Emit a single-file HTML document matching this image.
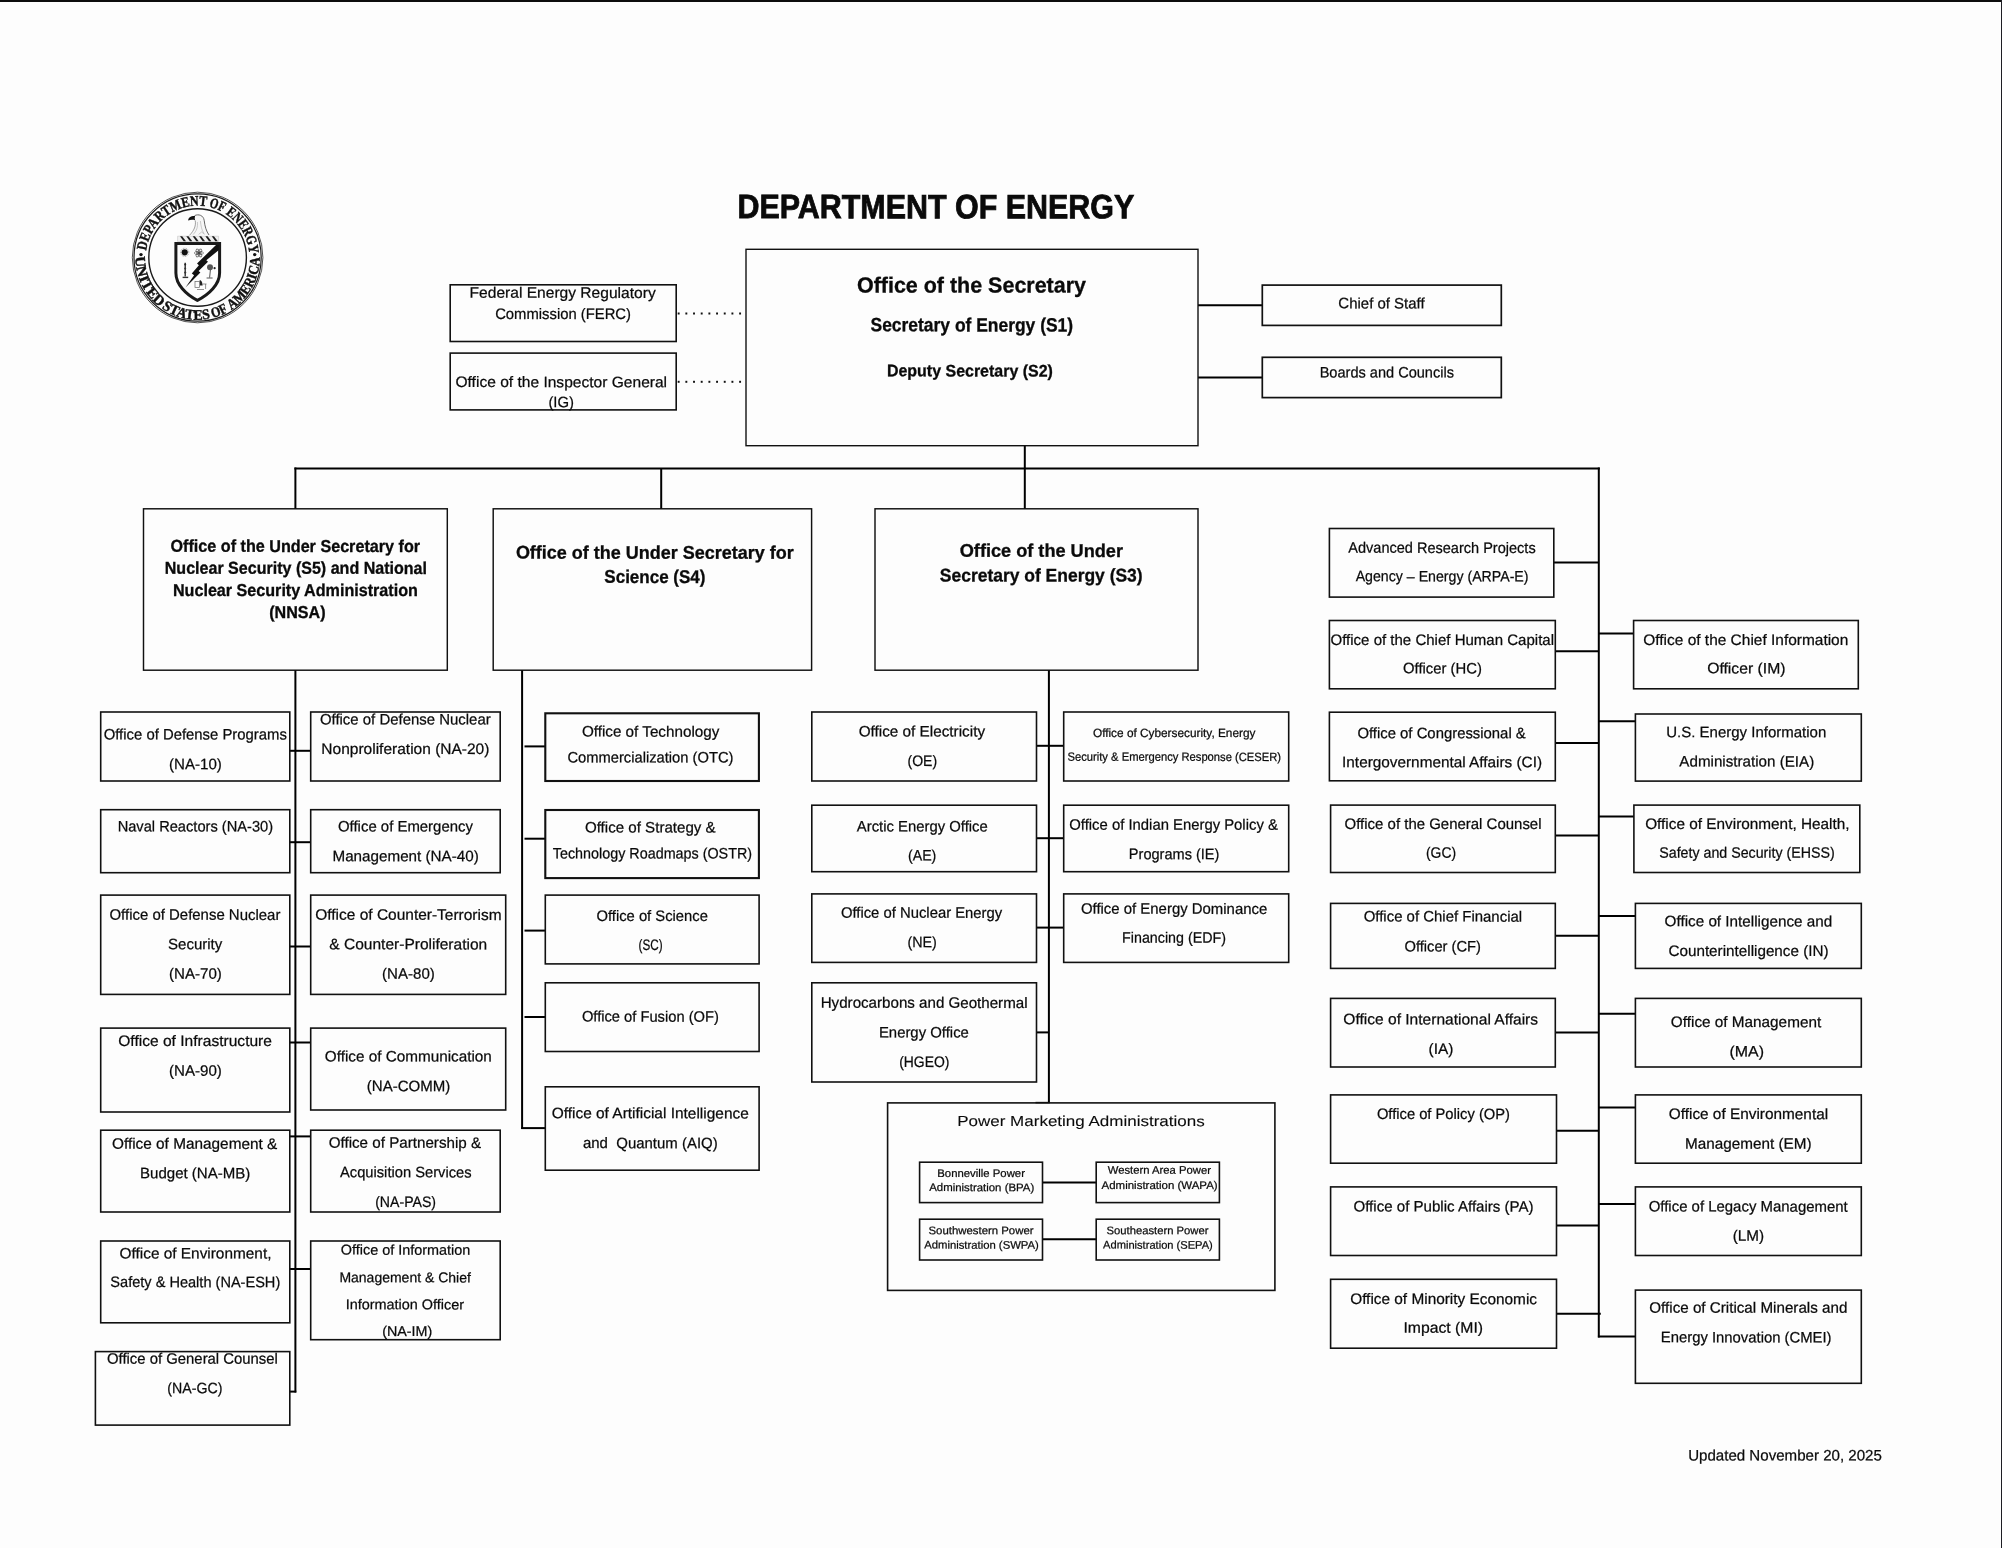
<!DOCTYPE html>
<html><head><meta charset="utf-8"><title>Department of Energy</title>
<style>
html,body{margin:0;padding:0;background:#fdfdfd;}
body{width:2002px;height:1548px;overflow:hidden;position:relative;font-family:"Liberation Sans",sans-serif;}
#top{position:absolute;left:0;top:0;width:2002px;height:2px;background:#0d0d0d;}
#right{position:absolute;right:0;top:0;width:1px;height:1548px;background:#1e1e24;}
svg{position:absolute;left:0;top:0;will-change:transform;}
svg text{font-family:"Liberation Sans",sans-serif;white-space:pre;text-rendering:geometricPrecision;}
svg text.sf{font-family:"Liberation Serif",serif;}
</style></head><body>
<svg width="2002" height="1548" viewBox="0 0 2002 1548">
<line x1="1024.80" y1="446.00" x2="1024.80" y2="509.00" stroke="#000" stroke-width="2.0"/>
<line x1="294.40" y1="468.40" x2="1599.80" y2="468.40" stroke="#000" stroke-width="2.0"/>
<line x1="295.40" y1="467.50" x2="295.40" y2="509.00" stroke="#000" stroke-width="2.0"/>
<line x1="661.20" y1="468.00" x2="661.20" y2="509.00" stroke="#000" stroke-width="2.0"/>
<line x1="1598.80" y1="467.50" x2="1598.80" y2="1337.40" stroke="#000" stroke-width="2.0"/>
<line x1="1198.00" y1="305.20" x2="1262.00" y2="305.20" stroke="#000" stroke-width="2.0"/>
<line x1="1198.00" y1="377.50" x2="1262.00" y2="377.50" stroke="#000" stroke-width="2.0"/>
<rect x="677.70" y="312.50" width="1.9" height="2" fill="#111"/>
<rect x="685.38" y="312.50" width="1.9" height="2" fill="#111"/>
<rect x="693.06" y="312.50" width="1.9" height="2" fill="#111"/>
<rect x="700.74" y="312.50" width="1.9" height="2" fill="#111"/>
<rect x="708.42" y="312.50" width="1.9" height="2" fill="#111"/>
<rect x="716.10" y="312.50" width="1.9" height="2" fill="#111"/>
<rect x="723.78" y="312.50" width="1.9" height="2" fill="#111"/>
<rect x="731.46" y="312.50" width="1.9" height="2" fill="#111"/>
<rect x="739.14" y="312.50" width="1.9" height="2" fill="#111"/>
<rect x="677.70" y="380.80" width="1.9" height="2" fill="#111"/>
<rect x="685.38" y="380.80" width="1.9" height="2" fill="#111"/>
<rect x="693.06" y="380.80" width="1.9" height="2" fill="#111"/>
<rect x="700.74" y="380.80" width="1.9" height="2" fill="#111"/>
<rect x="708.42" y="380.80" width="1.9" height="2" fill="#111"/>
<rect x="716.10" y="380.80" width="1.9" height="2" fill="#111"/>
<rect x="723.78" y="380.80" width="1.9" height="2" fill="#111"/>
<rect x="731.46" y="380.80" width="1.9" height="2" fill="#111"/>
<rect x="739.14" y="380.80" width="1.9" height="2" fill="#111"/>
<line x1="295.40" y1="670.00" x2="295.40" y2="1392.50" stroke="#000" stroke-width="2.0"/>
<line x1="289.80" y1="750.80" x2="310.70" y2="750.80" stroke="#000" stroke-width="2.0"/>
<line x1="289.80" y1="842.20" x2="310.70" y2="842.20" stroke="#000" stroke-width="2.0"/>
<line x1="289.80" y1="946.50" x2="310.70" y2="946.50" stroke="#000" stroke-width="2.0"/>
<line x1="289.80" y1="1042.50" x2="310.70" y2="1042.50" stroke="#000" stroke-width="2.0"/>
<line x1="289.80" y1="1136.40" x2="310.70" y2="1136.40" stroke="#000" stroke-width="2.0"/>
<line x1="289.80" y1="1269.00" x2="310.70" y2="1269.00" stroke="#000" stroke-width="2.0"/>
<line x1="289.80" y1="1391.60" x2="296.30" y2="1391.60" stroke="#000" stroke-width="2.0"/>
<line x1="522.10" y1="670.00" x2="522.10" y2="1129.00" stroke="#000" stroke-width="2.0"/>
<line x1="524.50" y1="746.40" x2="545.30" y2="746.40" stroke="#000" stroke-width="2.0"/>
<line x1="524.50" y1="838.70" x2="545.30" y2="838.70" stroke="#000" stroke-width="2.0"/>
<line x1="524.50" y1="930.60" x2="545.30" y2="930.60" stroke="#000" stroke-width="2.0"/>
<line x1="524.50" y1="1017.00" x2="545.30" y2="1017.00" stroke="#000" stroke-width="2.0"/>
<line x1="521.20" y1="1128.10" x2="545.30" y2="1128.10" stroke="#000" stroke-width="2.0"/>
<line x1="1048.90" y1="670.00" x2="1048.90" y2="1103.00" stroke="#000" stroke-width="2.0"/>
<line x1="1036.50" y1="745.80" x2="1063.70" y2="745.80" stroke="#000" stroke-width="2.0"/>
<line x1="1036.50" y1="838.20" x2="1063.70" y2="838.20" stroke="#000" stroke-width="2.0"/>
<line x1="1036.50" y1="927.60" x2="1063.70" y2="927.60" stroke="#000" stroke-width="2.0"/>
<line x1="1036.50" y1="1032.40" x2="1049.00" y2="1032.40" stroke="#000" stroke-width="2.0"/>
<line x1="1035.50" y1="1102.60" x2="1049.80" y2="1102.60" stroke="#000" stroke-width="1.5"/>
<line x1="1042.50" y1="1182.40" x2="1096.20" y2="1182.40" stroke="#000" stroke-width="2.0"/>
<line x1="1042.50" y1="1239.30" x2="1096.20" y2="1239.30" stroke="#000" stroke-width="2.0"/>
<line x1="1553.80" y1="562.60" x2="1598.80" y2="562.60" stroke="#000" stroke-width="2.0"/>
<line x1="1555.30" y1="651.30" x2="1598.80" y2="651.30" stroke="#000" stroke-width="2.0"/>
<line x1="1555.30" y1="743.00" x2="1598.80" y2="743.00" stroke="#000" stroke-width="2.0"/>
<line x1="1555.30" y1="835.40" x2="1598.80" y2="835.40" stroke="#000" stroke-width="2.0"/>
<line x1="1555.30" y1="935.70" x2="1598.80" y2="935.70" stroke="#000" stroke-width="2.0"/>
<line x1="1555.30" y1="1032.50" x2="1598.80" y2="1032.50" stroke="#000" stroke-width="2.0"/>
<line x1="1556.50" y1="1130.80" x2="1598.80" y2="1130.80" stroke="#000" stroke-width="2.0"/>
<line x1="1556.50" y1="1225.50" x2="1598.80" y2="1225.50" stroke="#000" stroke-width="2.0"/>
<line x1="1556.50" y1="1313.70" x2="1600.80" y2="1313.70" stroke="#000" stroke-width="2.0"/>
<line x1="1598.80" y1="633.40" x2="1633.60" y2="633.40" stroke="#000" stroke-width="2.0"/>
<line x1="1598.80" y1="721.20" x2="1635.40" y2="721.20" stroke="#000" stroke-width="2.0"/>
<line x1="1598.80" y1="816.50" x2="1633.90" y2="816.50" stroke="#000" stroke-width="2.0"/>
<line x1="1598.80" y1="916.00" x2="1635.40" y2="916.00" stroke="#000" stroke-width="2.0"/>
<line x1="1598.80" y1="1013.70" x2="1635.40" y2="1013.70" stroke="#000" stroke-width="2.0"/>
<line x1="1598.80" y1="1107.50" x2="1635.40" y2="1107.50" stroke="#000" stroke-width="2.0"/>
<line x1="1598.80" y1="1204.00" x2="1635.40" y2="1204.00" stroke="#000" stroke-width="2.0"/>
<line x1="1597.90" y1="1336.50" x2="1635.40" y2="1336.50" stroke="#000" stroke-width="2.0"/>
<rect x="746.00" y="249.30" width="452.00" height="196.40" fill="none" stroke="#111" stroke-width="1.4"/>
<rect x="450.20" y="284.80" width="226.00" height="56.70" fill="none" stroke="#111" stroke-width="1.6"/>
<rect x="450.20" y="353.10" width="226.00" height="56.80" fill="none" stroke="#111" stroke-width="1.6"/>
<rect x="1262.30" y="285.10" width="239.00" height="40.30" fill="none" stroke="#111" stroke-width="1.7"/>
<rect x="1262.30" y="357.30" width="239.00" height="40.30" fill="none" stroke="#111" stroke-width="1.7"/>
<rect x="143.50" y="508.80" width="303.80" height="161.40" fill="none" stroke="#111" stroke-width="1.45"/>
<rect x="493.20" y="508.80" width="318.40" height="161.40" fill="none" stroke="#111" stroke-width="1.45"/>
<rect x="875.00" y="508.80" width="323.00" height="161.40" fill="none" stroke="#111" stroke-width="1.45"/>
<rect x="100.70" y="712.00" width="189.10" height="69.00" fill="none" stroke="#111" stroke-width="1.6"/>
<rect x="310.70" y="712.00" width="189.50" height="69.00" fill="none" stroke="#111" stroke-width="1.6"/>
<rect x="100.70" y="809.70" width="189.10" height="63.00" fill="none" stroke="#111" stroke-width="1.6"/>
<rect x="310.70" y="809.70" width="189.50" height="63.00" fill="none" stroke="#111" stroke-width="1.6"/>
<rect x="100.70" y="895.10" width="189.10" height="99.30" fill="none" stroke="#111" stroke-width="1.6"/>
<rect x="310.70" y="895.10" width="195.00" height="99.30" fill="none" stroke="#111" stroke-width="1.6"/>
<rect x="100.70" y="1028.10" width="189.10" height="83.90" fill="none" stroke="#111" stroke-width="1.6"/>
<rect x="310.70" y="1028.10" width="195.00" height="81.90" fill="none" stroke="#111" stroke-width="1.6"/>
<rect x="100.70" y="1130.20" width="189.10" height="81.80" fill="none" stroke="#111" stroke-width="1.6"/>
<rect x="310.70" y="1130.20" width="189.50" height="81.80" fill="none" stroke="#111" stroke-width="1.6"/>
<rect x="100.70" y="1241.00" width="189.10" height="81.80" fill="none" stroke="#111" stroke-width="1.6"/>
<rect x="310.70" y="1241.00" width="189.50" height="98.70" fill="none" stroke="#111" stroke-width="1.6"/>
<rect x="95.40" y="1351.60" width="194.40" height="73.50" fill="none" stroke="#111" stroke-width="1.6"/>
<rect x="545.30" y="713.30" width="213.60" height="67.70" fill="none" stroke="#111" stroke-width="2.1"/>
<rect x="545.30" y="810.00" width="213.60" height="68.10" fill="none" stroke="#111" stroke-width="2.1"/>
<rect x="545.30" y="895.10" width="213.80" height="68.80" fill="none" stroke="#111" stroke-width="1.6"/>
<rect x="545.30" y="982.80" width="213.80" height="68.70" fill="none" stroke="#111" stroke-width="1.6"/>
<rect x="545.30" y="1086.80" width="213.80" height="83.40" fill="none" stroke="#111" stroke-width="1.6"/>
<rect x="811.80" y="712.00" width="224.70" height="69.00" fill="none" stroke="#111" stroke-width="1.6"/>
<rect x="1063.70" y="712.00" width="225.00" height="69.00" fill="none" stroke="#111" stroke-width="1.6"/>
<rect x="811.80" y="805.20" width="224.70" height="66.50" fill="none" stroke="#111" stroke-width="1.6"/>
<rect x="1063.70" y="805.20" width="225.00" height="66.50" fill="none" stroke="#111" stroke-width="1.6"/>
<rect x="811.80" y="893.90" width="224.70" height="68.50" fill="none" stroke="#111" stroke-width="1.6"/>
<rect x="1063.70" y="893.90" width="225.00" height="68.50" fill="none" stroke="#111" stroke-width="1.6"/>
<rect x="811.80" y="982.80" width="224.70" height="99.20" fill="none" stroke="#111" stroke-width="1.6"/>
<rect x="887.60" y="1102.90" width="387.30" height="187.50" fill="none" stroke="#111" stroke-width="1.6"/>
<rect x="919.60" y="1162.20" width="122.90" height="40.40" fill="none" stroke="#111" stroke-width="1.6"/>
<rect x="1096.20" y="1162.20" width="123.20" height="40.40" fill="none" stroke="#111" stroke-width="1.6"/>
<rect x="919.60" y="1219.20" width="122.90" height="40.80" fill="none" stroke="#111" stroke-width="1.6"/>
<rect x="1096.20" y="1219.20" width="123.20" height="40.80" fill="none" stroke="#111" stroke-width="1.6"/>
<rect x="1329.40" y="528.50" width="224.40" height="68.60" fill="none" stroke="#111" stroke-width="1.6"/>
<rect x="1329.40" y="620.50" width="225.90" height="68.30" fill="none" stroke="#111" stroke-width="1.6"/>
<rect x="1633.60" y="620.50" width="224.70" height="68.30" fill="none" stroke="#111" stroke-width="1.6"/>
<rect x="1329.40" y="712.20" width="225.90" height="68.60" fill="none" stroke="#111" stroke-width="1.6"/>
<rect x="1635.40" y="714.00" width="225.90" height="67.10" fill="none" stroke="#111" stroke-width="1.6"/>
<rect x="1330.60" y="805.10" width="224.70" height="67.40" fill="none" stroke="#111" stroke-width="1.6"/>
<rect x="1633.90" y="805.10" width="225.90" height="67.40" fill="none" stroke="#111" stroke-width="1.6"/>
<rect x="1330.60" y="903.40" width="224.70" height="65.00" fill="none" stroke="#111" stroke-width="1.6"/>
<rect x="1635.40" y="903.40" width="225.90" height="65.00" fill="none" stroke="#111" stroke-width="1.6"/>
<rect x="1330.60" y="998.40" width="224.70" height="68.60" fill="none" stroke="#111" stroke-width="1.6"/>
<rect x="1635.40" y="998.40" width="225.90" height="68.60" fill="none" stroke="#111" stroke-width="1.6"/>
<rect x="1330.60" y="1094.90" width="225.90" height="68.30" fill="none" stroke="#111" stroke-width="1.6"/>
<rect x="1635.40" y="1094.90" width="225.90" height="68.30" fill="none" stroke="#111" stroke-width="1.6"/>
<rect x="1330.60" y="1186.90" width="225.90" height="68.60" fill="none" stroke="#111" stroke-width="1.6"/>
<rect x="1635.40" y="1186.90" width="225.90" height="68.60" fill="none" stroke="#111" stroke-width="1.6"/>
<rect x="1330.60" y="1279.30" width="225.90" height="68.90" fill="none" stroke="#111" stroke-width="1.6"/>
<rect x="1635.40" y="1290.10" width="225.90" height="93.20" fill="none" stroke="#111" stroke-width="1.6"/>
<text transform="rotate(0.04 936.6 218.2) translate(737.42,218.20) scale(0.9034,1)" font-size="33.7" font-weight="bold" fill="#0a0a0a" stroke="#0a0a0a" stroke-width="0.8">DEPARTMENT OF ENERGY</text>
<text transform="rotate(0.04 971.9 292.5) translate(856.94,292.50) scale(0.9848,1)" font-size="21.8" font-weight="bold" fill="#0a0a0a" stroke="#0a0a0a" stroke-width="0.32">Office of the Secretary</text>
<text transform="rotate(0.04 971.7 331.4) translate(870.52,331.40) scale(0.9090,1)" font-size="19.2" font-weight="bold" fill="#0a0a0a" stroke="#0a0a0a" stroke-width="0.32">Secretary of Energy (S1)</text>
<text transform="rotate(0.04 970.1 376.4) translate(886.96,376.40) scale(0.9565,1)" font-size="16.7" font-weight="bold" fill="#0a0a0a" stroke="#0a0a0a" stroke-width="0.32">Deputy Secretary (S2)</text>
<text transform="rotate(0.04 563.3 297.9) translate(469.55,297.85) scale(1.0256,1)" font-size="15.2" font-weight="normal" fill="#0a0a0a" stroke="#0a0a0a" stroke-width="0.24">Federal Energy Regulatory</text>
<text transform="rotate(0.04 563.0 319.0) translate(495.16,318.95) scale(0.9755,1)" font-size="15.2" font-weight="normal" fill="#0a0a0a" stroke="#0a0a0a" stroke-width="0.24">Commission (FERC)</text>
<text transform="rotate(0.04 561.2 387.2) translate(455.46,387.15) scale(1.0245,1)" font-size="15.2" font-weight="normal" fill="#0a0a0a" stroke="#0a0a0a" stroke-width="0.24">Office of the Inspector General</text>
<text transform="rotate(0.04 561.2 407.4) translate(548.41,407.35) scale(0.9786,1)" font-size="15.2" font-weight="normal" fill="#0a0a0a" stroke="#0a0a0a" stroke-width="0.24">(IG)</text>
<text transform="rotate(0.04 1381.9 308.4) translate(1338.35,308.40) scale(0.9854,1)" font-size="15.2" font-weight="normal" fill="#0a0a0a" stroke="#0a0a0a" stroke-width="0.24">Chief of Staff</text>
<text transform="rotate(0.04 1387.2 377.5) translate(1319.63,377.50) scale(0.9588,1)" font-size="15.2" font-weight="normal" fill="#0a0a0a" stroke="#0a0a0a" stroke-width="0.24">Boards and Councils</text>
<text transform="rotate(0.04 295.6 551.9) translate(170.55,551.90) scale(0.9396,1)" font-size="17.2" font-weight="bold" fill="#0a0a0a" stroke="#0a0a0a" stroke-width="0.32">Office of the Under Secretary for</text>
<text transform="rotate(0.04 295.9 573.8) translate(164.76,573.80) scale(0.9337,1)" font-size="17.2" font-weight="bold" fill="#0a0a0a" stroke="#0a0a0a" stroke-width="0.32">Nuclear Security (S5) and National</text>
<text transform="rotate(0.04 295.5 596.0) translate(172.95,596.00) scale(0.9380,1)" font-size="17.2" font-weight="bold" fill="#0a0a0a" stroke="#0a0a0a" stroke-width="0.32">Nuclear Security Administration</text>
<text transform="rotate(0.04 297.4 617.9) translate(269.19,617.90) scale(0.9364,1)" font-size="17.2" font-weight="bold" fill="#0a0a0a" stroke="#0a0a0a" stroke-width="0.32">(NNSA)</text>
<text transform="rotate(0.04 655.2 558.7) translate(515.88,558.70) scale(0.9836,1)" font-size="18.3" font-weight="bold" fill="#0a0a0a" stroke="#0a0a0a" stroke-width="0.32">Office of the Under Secretary for</text>
<text transform="rotate(0.04 654.8 582.9) translate(604.33,582.90) scale(0.9305,1)" font-size="18.3" font-weight="bold" fill="#0a0a0a" stroke="#0a0a0a" stroke-width="0.32">Science (S4)</text>
<text transform="rotate(0.04 1041.7 556.9) translate(959.77,556.85) scale(0.9918,1)" font-size="18.3" font-weight="bold" fill="#0a0a0a" stroke="#0a0a0a" stroke-width="0.32">Office of the Under</text>
<text transform="rotate(0.04 1041.2 581.5) translate(939.82,581.55) scale(0.9551,1)" font-size="18.3" font-weight="bold" fill="#0a0a0a" stroke="#0a0a0a" stroke-width="0.32">Secretary of Energy (S3)</text>
<text transform="rotate(0.04 195.4 739.6) translate(103.69,739.55) scale(0.9790,1)" font-size="15.2" font-weight="normal" fill="#0a0a0a" stroke="#0a0a0a" stroke-width="0.24">Office of Defense Programs</text>
<text transform="rotate(0.04 195.5 769.4) translate(169.09,769.35) scale(0.9927,1)" font-size="15.2" font-weight="normal" fill="#0a0a0a" stroke="#0a0a0a" stroke-width="0.24">(NA-10)</text>
<text transform="rotate(0.04 405.6 724.5) translate(319.89,724.45) scale(0.9837,1)" font-size="15.2" font-weight="normal" fill="#0a0a0a" stroke="#0a0a0a" stroke-width="0.24">Office of Defense Nuclear</text>
<text transform="rotate(0.04 405.6 754.0) translate(321.36,753.95) scale(1.0209,1)" font-size="15.2" font-weight="normal" fill="#0a0a0a" stroke="#0a0a0a" stroke-width="0.24">Nonproliferation (NA-20)</text>
<text transform="rotate(0.04 195.6 831.5) translate(117.63,831.45) scale(0.9641,1)" font-size="15.2" font-weight="normal" fill="#0a0a0a" stroke="#0a0a0a" stroke-width="0.24">Naval Reactors (NA-30)</text>
<text transform="rotate(0.04 405.9 831.5) translate(337.99,831.45) scale(0.9825,1)" font-size="15.2" font-weight="normal" fill="#0a0a0a" stroke="#0a0a0a" stroke-width="0.24">Office of Emergency</text>
<text transform="rotate(0.04 405.9 861.2) translate(332.48,861.25) scale(1.0019,1)" font-size="15.2" font-weight="normal" fill="#0a0a0a" stroke="#0a0a0a" stroke-width="0.24">Management (NA-40)</text>
<text transform="rotate(0.04 195.2 919.9) translate(109.49,919.85) scale(0.9842,1)" font-size="15.2" font-weight="normal" fill="#0a0a0a" stroke="#0a0a0a" stroke-width="0.24">Office of Defense Nuclear</text>
<text transform="rotate(0.04 195.5 949.4) translate(168.02,949.35) scale(0.9891,1)" font-size="15.2" font-weight="normal" fill="#0a0a0a" stroke="#0a0a0a" stroke-width="0.24">Security</text>
<text transform="rotate(0.04 195.5 978.9) translate(169.09,978.85) scale(0.9927,1)" font-size="15.2" font-weight="normal" fill="#0a0a0a" stroke="#0a0a0a" stroke-width="0.24">(NA-70)</text>
<text transform="rotate(0.04 408.4 919.9) translate(315.26,919.85) scale(1.0188,1)" font-size="15.2" font-weight="normal" fill="#0a0a0a" stroke="#0a0a0a" stroke-width="0.24">Office of Counter-Terrorism</text>
<text transform="rotate(0.04 408.1 949.4) translate(329.36,949.35) scale(1.0215,1)" font-size="15.2" font-weight="normal" fill="#0a0a0a" stroke="#0a0a0a" stroke-width="0.24">&amp; Counter-Proliferation</text>
<text transform="rotate(0.04 408.4 978.9) translate(382.10,978.85) scale(0.9907,1)" font-size="15.2" font-weight="normal" fill="#0a0a0a" stroke="#0a0a0a" stroke-width="0.24">(NA-80)</text>
<text transform="rotate(0.04 195.2 1046.0) translate(118.26,1046.05) scale(1.0249,1)" font-size="15.2" font-weight="normal" fill="#0a0a0a" stroke="#0a0a0a" stroke-width="0.24">Office of Infrastructure</text>
<text transform="rotate(0.04 195.5 1075.8) translate(169.09,1075.85) scale(0.9927,1)" font-size="15.2" font-weight="normal" fill="#0a0a0a" stroke="#0a0a0a" stroke-width="0.24">(NA-90)</text>
<text transform="rotate(0.04 408.3 1061.4) translate(324.87,1061.45) scale(1.0057,1)" font-size="15.2" font-weight="normal" fill="#0a0a0a" stroke="#0a0a0a" stroke-width="0.24">Office of Communication</text>
<text transform="rotate(0.04 408.6 1091.1) translate(366.80,1091.15) scale(0.9902,1)" font-size="15.2" font-weight="normal" fill="#0a0a0a" stroke="#0a0a0a" stroke-width="0.24">(NA-COMM)</text>
<text transform="rotate(0.04 194.9 1148.8) translate(111.97,1148.85) scale(1.0112,1)" font-size="15.2" font-weight="normal" fill="#0a0a0a" stroke="#0a0a0a" stroke-width="0.24">Office of Management &amp;</text>
<text transform="rotate(0.04 195.3 1178.3) translate(140.00,1178.35) scale(0.9903,1)" font-size="15.2" font-weight="normal" fill="#0a0a0a" stroke="#0a0a0a" stroke-width="0.24">Budget (NA-MB)</text>
<text transform="rotate(0.04 405.2 1147.8) translate(328.68,1147.85) scale(0.9994,1)" font-size="15.2" font-weight="normal" fill="#0a0a0a" stroke="#0a0a0a" stroke-width="0.24">Office of Partnership &amp;</text>
<text transform="rotate(0.04 405.6 1177.3) translate(339.96,1177.35) scale(0.9688,1)" font-size="15.2" font-weight="normal" fill="#0a0a0a" stroke="#0a0a0a" stroke-width="0.24">Acquisition Services</text>
<text transform="rotate(0.04 405.6 1207.0) translate(375.15,1207.05) scale(0.9284,1)" font-size="15.2" font-weight="normal" fill="#0a0a0a" stroke="#0a0a0a" stroke-width="0.24">(NA-PAS)</text>
<text transform="rotate(0.04 195.2 1258.4) translate(119.57,1258.45) scale(1.0125,1)" font-size="15.2" font-weight="normal" fill="#0a0a0a" stroke="#0a0a0a" stroke-width="0.24">Office of Environment,</text>
<text transform="rotate(0.04 195.2 1287.1) translate(110.34,1287.15) scale(0.9585,1)" font-size="15.2" font-weight="normal" fill="#0a0a0a" stroke="#0a0a0a" stroke-width="0.24">Safety &amp; Health (NA-ESH)</text>
<text transform="rotate(0.04 405.4 1254.6) translate(340.82,1254.65) scale(1.0149,1)" font-size="14.2" font-weight="normal" fill="#0a0a0a" stroke="#0a0a0a" stroke-width="0.24">Office of Information</text>
<text transform="rotate(0.04 405.8 1282.3) translate(339.38,1282.35) scale(0.9863,1)" font-size="14.2" font-weight="normal" fill="#0a0a0a" stroke="#0a0a0a" stroke-width="0.24">Management &amp; Chief</text>
<text transform="rotate(0.04 405.5 1309.3) translate(345.66,1309.35) scale(1.0172,1)" font-size="14.2" font-weight="normal" fill="#0a0a0a" stroke="#0a0a0a" stroke-width="0.24">Information Officer</text>
<text transform="rotate(0.04 407.2 1336.0) translate(382.14,1336.05) scale(1.0092,1)" font-size="14.2" font-weight="normal" fill="#0a0a0a" stroke="#0a0a0a" stroke-width="0.24">(NA-IM)</text>
<text transform="rotate(0.04 192.3 1363.8) translate(106.99,1363.75) scale(0.9794,1)" font-size="15.2" font-weight="normal" fill="#0a0a0a" stroke="#0a0a0a" stroke-width="0.24">Office of General Counsel</text>
<text transform="rotate(0.04 194.9 1393.2) translate(167.35,1393.25) scale(0.9325,1)" font-size="15.2" font-weight="normal" fill="#0a0a0a" stroke="#0a0a0a" stroke-width="0.24">(NA-GC)</text>
<text transform="rotate(0.04 651.0 736.6) translate(581.88,736.65) scale(1.0028,1)" font-size="15.2" font-weight="normal" fill="#0a0a0a" stroke="#0a0a0a" stroke-width="0.24">Office of Technology</text>
<text transform="rotate(0.04 650.5 762.6) translate(567.46,762.55) scale(0.9689,1)" font-size="15.2" font-weight="normal" fill="#0a0a0a" stroke="#0a0a0a" stroke-width="0.24">Commercialization (OTC)</text>
<text transform="rotate(0.04 650.6 832.6) translate(584.88,832.55) scale(0.9956,1)" font-size="15.2" font-weight="normal" fill="#0a0a0a" stroke="#0a0a0a" stroke-width="0.24">Office of Strategy &amp;</text>
<text transform="rotate(0.04 652.2 858.6) translate(552.78,858.55) scale(0.9445,1)" font-size="15.2" font-weight="normal" fill="#0a0a0a" stroke="#0a0a0a" stroke-width="0.24">Technology Roadmaps (OSTR)</text>
<text transform="rotate(0.04 652.2 921.0) translate(596.50,920.95) scale(0.9723,1)" font-size="15.2" font-weight="normal" fill="#0a0a0a" stroke="#0a0a0a" stroke-width="0.24">Office of Science</text>
<text transform="rotate(0.04 650.6 950.1) translate(638.60,950.05) scale(0.7684,1)" font-size="15.2" font-weight="normal" fill="#0a0a0a" stroke="#0a0a0a" stroke-width="0.24">(SC)</text>
<text transform="rotate(0.04 650.4 1021.6) translate(581.90,1021.65) scale(0.9679,1)" font-size="15.2" font-weight="normal" fill="#0a0a0a" stroke="#0a0a0a" stroke-width="0.24">Office of Fusion (OF)</text>
<text transform="rotate(0.04 650.3 1118.3) translate(551.67,1118.35) scale(1.0168,1)" font-size="15.2" font-weight="normal" fill="#0a0a0a" stroke="#0a0a0a" stroke-width="0.24">Office of Artificial Intelligence</text>
<text transform="rotate(0.04 650.2 1148.1) translate(582.96,1148.15) scale(0.9854,1)" font-size="15.2" font-weight="normal" fill="#0a0a0a" stroke="#0a0a0a" stroke-width="0.24">and  Quantum (AIQ)</text>
<text transform="rotate(0.04 922.2 736.6) translate(858.67,736.55) scale(1.0070,1)" font-size="15.2" font-weight="normal" fill="#0a0a0a" stroke="#0a0a0a" stroke-width="0.24">Office of Electricity</text>
<text transform="rotate(0.04 922.3 766.1) translate(907.46,766.05) scale(0.9257,1)" font-size="15.2" font-weight="normal" fill="#0a0a0a" stroke="#0a0a0a" stroke-width="0.24">(OE)</text>
<text transform="rotate(0.04 1174.5 737.0) translate(1092.94,736.95) scale(0.9850,1)" font-size="12.0" font-weight="normal" fill="#0a0a0a" stroke="#0a0a0a" stroke-width="0.24">Office of Cybersecurity, Energy</text>
<text transform="rotate(0.04 1174.2 760.9) translate(1067.50,760.85) scale(0.9337,1)" font-size="12.0" font-weight="normal" fill="#0a0a0a" stroke="#0a0a0a" stroke-width="0.24">Security &amp; Emergency Response (CESER)</text>
<text transform="rotate(0.04 922.0 831.5) translate(856.86,831.45) scale(0.9772,1)" font-size="15.2" font-weight="normal" fill="#0a0a0a" stroke="#0a0a0a" stroke-width="0.24">Arctic Energy Office</text>
<text transform="rotate(0.04 922.1 860.5) translate(907.95,860.45) scale(0.9344,1)" font-size="15.2" font-weight="normal" fill="#0a0a0a" stroke="#0a0a0a" stroke-width="0.24">(AE)</text>
<text transform="rotate(0.04 1173.9 829.8) translate(1069.29,829.75) scale(0.9777,1)" font-size="15.2" font-weight="normal" fill="#0a0a0a" stroke="#0a0a0a" stroke-width="0.24">Office of Indian Energy Policy &amp;</text>
<text transform="rotate(0.04 1174.3 859.1) translate(1128.83,859.15) scale(0.9583,1)" font-size="15.2" font-weight="normal" fill="#0a0a0a" stroke="#0a0a0a" stroke-width="0.24">Programs (IE)</text>
<text transform="rotate(0.04 922.0 917.9) translate(840.89,917.85) scale(0.9767,1)" font-size="15.2" font-weight="normal" fill="#0a0a0a" stroke="#0a0a0a" stroke-width="0.24">Office of Nuclear Energy</text>
<text transform="rotate(0.04 922.1 947.4) translate(907.44,947.35) scale(0.9418,1)" font-size="15.2" font-weight="normal" fill="#0a0a0a" stroke="#0a0a0a" stroke-width="0.24">(NE)</text>
<text transform="rotate(0.04 1174.2 913.9) translate(1080.89,913.85) scale(0.9828,1)" font-size="15.2" font-weight="normal" fill="#0a0a0a" stroke="#0a0a0a" stroke-width="0.24">Office of Energy Dominance</text>
<text transform="rotate(0.04 1174.2 942.9) translate(1122.06,942.85) scale(0.9398,1)" font-size="15.2" font-weight="normal" fill="#0a0a0a" stroke="#0a0a0a" stroke-width="0.24">Financing (EDF)</text>
<text transform="rotate(0.04 924.3 1007.9) translate(820.69,1007.85) scale(0.9960,1)" font-size="15.2" font-weight="normal" fill="#0a0a0a" stroke="#0a0a0a" stroke-width="0.24">Hydrocarbons and Geothermal</text>
<text transform="rotate(0.04 924.2 1037.5) translate(878.91,1037.55) scale(0.9806,1)" font-size="15.2" font-weight="normal" fill="#0a0a0a" stroke="#0a0a0a" stroke-width="0.24">Energy Office</text>
<text transform="rotate(0.04 924.3 1067.0) translate(899.16,1067.05) scale(0.9162,1)" font-size="15.2" font-weight="normal" fill="#0a0a0a" stroke="#0a0a0a" stroke-width="0.24">(HGEO)</text>
<text transform="rotate(0.04 1081.4 1126.0) translate(957.24,1126.05) scale(1.1643,1)" font-size="14.6" font-weight="normal" fill="#0a0a0a" stroke="#0a0a0a" stroke-width="0.1">Power Marketing Administrations</text>
<text transform="rotate(0.04 981.5 1176.9) translate(937.29,1176.95) scale(1.0222,1)" font-size="11.1" font-weight="normal" fill="#0a0a0a" stroke="#0a0a0a" stroke-width="0.24">Bonneville Power</text>
<text transform="rotate(0.04 981.4 1191.1) translate(929.17,1191.15) scale(1.0285,1)" font-size="11.1" font-weight="normal" fill="#0a0a0a" stroke="#0a0a0a" stroke-width="0.24">Administration (BPA)</text>
<text transform="rotate(0.04 1159.3 1173.8) translate(1107.74,1173.85) scale(1.0161,1)" font-size="11.1" font-weight="normal" fill="#0a0a0a" stroke="#0a0a0a" stroke-width="0.24">Western Area Power</text>
<text transform="rotate(0.04 1159.3 1189.0) translate(1101.57,1189.05) scale(1.0345,1)" font-size="11.1" font-weight="normal" fill="#0a0a0a" stroke="#0a0a0a" stroke-width="0.24">Administration (WAPA)</text>
<text transform="rotate(0.04 981.2 1234.2) translate(928.49,1234.25) scale(1.0260,1)" font-size="11.1" font-weight="normal" fill="#0a0a0a" stroke="#0a0a0a" stroke-width="0.24">Southwestern Power</text>
<text transform="rotate(0.04 981.2 1248.6) translate(924.17,1248.65) scale(1.0181,1)" font-size="11.1" font-weight="normal" fill="#0a0a0a" stroke="#0a0a0a" stroke-width="0.24">Administration (SWPA)</text>
<text transform="rotate(0.04 1157.7 1234.2) translate(1106.49,1234.25) scale(1.0150,1)" font-size="11.1" font-weight="normal" fill="#0a0a0a" stroke="#0a0a0a" stroke-width="0.24">Southeastern Power</text>
<text transform="rotate(0.04 1157.7 1248.6) translate(1103.07,1248.65) scale(1.0019,1)" font-size="11.1" font-weight="normal" fill="#0a0a0a" stroke="#0a0a0a" stroke-width="0.24">Administration (SEPA)</text>
<text transform="rotate(0.04 1441.8 552.9) translate(1348.26,552.90) scale(0.9568,1)" font-size="15.2" font-weight="normal" fill="#0a0a0a" stroke="#0a0a0a" stroke-width="0.24">Advanced Research Projects</text>
<text transform="rotate(0.04 1441.8 581.4) translate(1355.66,581.40) scale(0.9323,1)" font-size="15.2" font-weight="normal" fill="#0a0a0a" stroke="#0a0a0a" stroke-width="0.24">Agency – Energy (ARPA-E)</text>
<text transform="rotate(0.04 1442.2 645.0) translate(1330.49,645.00) scale(0.9892,1)" font-size="15.2" font-weight="normal" fill="#0a0a0a" stroke="#0a0a0a" stroke-width="0.24">Office of the Chief Human Capital</text>
<text transform="rotate(0.04 1442.3 673.4) translate(1402.99,673.40) scale(0.9766,1)" font-size="15.2" font-weight="normal" fill="#0a0a0a" stroke="#0a0a0a" stroke-width="0.24">Officer (HC)</text>
<text transform="rotate(0.04 1745.8 645.0) translate(1643.27,645.00) scale(1.0177,1)" font-size="15.2" font-weight="normal" fill="#0a0a0a" stroke="#0a0a0a" stroke-width="0.24">Office of the Chief Information</text>
<text transform="rotate(0.04 1746.2 673.4) translate(1707.15,673.40) scale(1.0356,1)" font-size="15.2" font-weight="normal" fill="#0a0a0a" stroke="#0a0a0a" stroke-width="0.24">Officer (IM)</text>
<text transform="rotate(0.04 1441.9 738.2) translate(1357.39,738.20) scale(0.9792,1)" font-size="15.2" font-weight="normal" fill="#0a0a0a" stroke="#0a0a0a" stroke-width="0.24">Office of Congressional &amp;</text>
<text transform="rotate(0.04 1442.4 767.2) translate(1342.08,767.20) scale(1.0096,1)" font-size="15.2" font-weight="normal" fill="#0a0a0a" stroke="#0a0a0a" stroke-width="0.24">Intergovernmental Affairs (CI)</text>
<text transform="rotate(0.04 1746.4 737.3) translate(1666.24,737.30) scale(0.9872,1)" font-size="15.2" font-weight="normal" fill="#0a0a0a" stroke="#0a0a0a" stroke-width="0.24">U.S. Energy Information</text>
<text transform="rotate(0.04 1746.4 766.6) translate(1679.36,766.60) scale(0.9984,1)" font-size="15.2" font-weight="normal" fill="#0a0a0a" stroke="#0a0a0a" stroke-width="0.24">Administration (EIA)</text>
<text transform="rotate(0.04 1443.0 829.0) translate(1344.59,829.00) scale(0.9856,1)" font-size="15.2" font-weight="normal" fill="#0a0a0a" stroke="#0a0a0a" stroke-width="0.24">Office of the General Counsel</text>
<text transform="rotate(0.04 1441.0 857.7) translate(1425.97,857.70) scale(0.9137,1)" font-size="15.2" font-weight="normal" fill="#0a0a0a" stroke="#0a0a0a" stroke-width="0.24">(GC)</text>
<text transform="rotate(0.04 1747.2 829.0) translate(1645.17,829.00) scale(1.0102,1)" font-size="15.2" font-weight="normal" fill="#0a0a0a" stroke="#0a0a0a" stroke-width="0.24">Office of Environment, Health,</text>
<text transform="rotate(0.04 1747.0 857.7) translate(1659.26,857.70) scale(0.9364,1)" font-size="15.2" font-weight="normal" fill="#0a0a0a" stroke="#0a0a0a" stroke-width="0.24">Safety and Security (EHSS)</text>
<text transform="rotate(0.04 1442.8 921.6) translate(1363.69,921.60) scale(0.9841,1)" font-size="15.2" font-weight="normal" fill="#0a0a0a" stroke="#0a0a0a" stroke-width="0.24">Office of Chief Financial</text>
<text transform="rotate(0.04 1442.7 951.5) translate(1404.50,951.50) scale(0.9672,1)" font-size="15.2" font-weight="normal" fill="#0a0a0a" stroke="#0a0a0a" stroke-width="0.24">Officer (CF)</text>
<text transform="rotate(0.04 1748.3 926.4) translate(1664.57,926.40) scale(1.0046,1)" font-size="15.2" font-weight="normal" fill="#0a0a0a" stroke="#0a0a0a" stroke-width="0.24">Office of Intelligence and</text>
<text transform="rotate(0.04 1748.5 956.0) translate(1668.44,956.00) scale(1.0038,1)" font-size="15.2" font-weight="normal" fill="#0a0a0a" stroke="#0a0a0a" stroke-width="0.24">Counterintelligence (IN)</text>
<text transform="rotate(0.04 1440.9 1024.4) translate(1343.36,1024.40) scale(1.0235,1)" font-size="15.2" font-weight="normal" fill="#0a0a0a" stroke="#0a0a0a" stroke-width="0.24">Office of International Affairs</text>
<text transform="rotate(0.04 1441.0 1054.0) translate(1428.57,1054.00) scale(1.0155,1)" font-size="15.2" font-weight="normal" fill="#0a0a0a" stroke="#0a0a0a" stroke-width="0.24">(IA)</text>
<text transform="rotate(0.04 1746.4 1027.1) translate(1670.87,1027.10) scale(1.0076,1)" font-size="15.2" font-weight="normal" fill="#0a0a0a" stroke="#0a0a0a" stroke-width="0.24">Office of Management</text>
<text transform="rotate(0.04 1746.7 1056.4) translate(1729.44,1056.40) scale(1.0488,1)" font-size="15.2" font-weight="normal" fill="#0a0a0a" stroke="#0a0a0a" stroke-width="0.24">(MA)</text>
<text transform="rotate(0.04 1443.4 1119.1) translate(1376.90,1119.10) scale(0.9693,1)" font-size="15.2" font-weight="normal" fill="#0a0a0a" stroke="#0a0a0a" stroke-width="0.24">Office of Policy (OP)</text>
<text transform="rotate(0.04 1748.3 1119.1) translate(1668.77,1119.10) scale(1.0112,1)" font-size="15.2" font-weight="normal" fill="#0a0a0a" stroke="#0a0a0a" stroke-width="0.24">Office of Environmental</text>
<text transform="rotate(0.04 1748.5 1148.7) translate(1685.08,1148.70) scale(1.0054,1)" font-size="15.2" font-weight="normal" fill="#0a0a0a" stroke="#0a0a0a" stroke-width="0.24">Management (EM)</text>
<text transform="rotate(0.04 1443.6 1211.6) translate(1353.48,1211.60) scale(0.9927,1)" font-size="15.2" font-weight="normal" fill="#0a0a0a" stroke="#0a0a0a" stroke-width="0.24">Office of Public Affairs (PA)</text>
<text transform="rotate(0.04 1748.6 1211.6) translate(1648.69,1211.60) scale(0.9836,1)" font-size="15.2" font-weight="normal" fill="#0a0a0a" stroke="#0a0a0a" stroke-width="0.24">Office of Legacy Management</text>
<text transform="rotate(0.04 1748.5 1240.7) translate(1732.78,1240.70) scale(1.0064,1)" font-size="15.2" font-weight="normal" fill="#0a0a0a" stroke="#0a0a0a" stroke-width="0.24">(LM)</text>
<text transform="rotate(0.04 1443.8 1304.1) translate(1350.17,1304.10) scale(1.0124,1)" font-size="15.2" font-weight="normal" fill="#0a0a0a" stroke="#0a0a0a" stroke-width="0.24">Office of Minority Economic</text>
<text transform="rotate(0.04 1443.6 1332.8) translate(1403.44,1332.80) scale(1.0373,1)" font-size="15.2" font-weight="normal" fill="#0a0a0a" stroke="#0a0a0a" stroke-width="0.24">Impact (MI)</text>
<text transform="rotate(0.04 1748.3 1312.7) translate(1649.28,1312.70) scale(1.0001,1)" font-size="15.2" font-weight="normal" fill="#0a0a0a" stroke="#0a0a0a" stroke-width="0.24">Office of Critical Minerals and</text>
<text transform="rotate(0.04 1746.4 1342.4) translate(1660.81,1342.40) scale(0.9771,1)" font-size="15.2" font-weight="normal" fill="#0a0a0a" stroke="#0a0a0a" stroke-width="0.24">Energy Innovation (CMEI)</text>
<text transform="rotate(0.04 1785.3 1460.5) translate(1688.13,1460.50) scale(0.9934,1)" font-size="15.2" font-weight="normal" fill="#0a0a0a" stroke="#0a0a0a" stroke-width="0.24">Updated November 20, 2025</text>
<g id="seal">
<circle cx="197.6" cy="257.5" r="65.3" fill="none" stroke="#222" stroke-width="0.8"/>
<circle cx="197.6" cy="257.5" r="63.6" fill="none" stroke="#1a1a1a" stroke-width="1.2"/>
<circle cx="197.6" cy="257.5" r="48.8" fill="none" stroke="#1a1a1a" stroke-width="1.4"/>
<path id="sealTop" d="M146.08,262.91 A51.8,51.8 0 1 1 249.12,262.91" fill="none"/>
<path id="sealBot" d="M135.74,251.00 A62.2,62.2 0 1 0 259.46,251.00" fill="none"/>
<text class="sf" font-size="14.5" font-weight="bold" fill="#111" stroke="#111" stroke-width="0.45" textLength="83.36" lengthAdjust="spacingAndGlyphs"><textPath href="#sealTop" startOffset="12.30" textLength="83.36" lengthAdjust="spacingAndGlyphs">DEPARTMENT</textPath></text>
<text class="sf" font-size="14.5" font-weight="bold" fill="#111" stroke="#111" stroke-width="0.45" textLength="15.19" lengthAdjust="spacingAndGlyphs"><textPath href="#sealTop" startOffset="97.91" textLength="15.19" lengthAdjust="spacingAndGlyphs">OF</textPath></text>
<text class="sf" font-size="14.5" font-weight="bold" fill="#111" stroke="#111" stroke-width="0.45" textLength="48.19" lengthAdjust="spacingAndGlyphs"><textPath href="#sealTop" startOffset="115.81" textLength="48.19" lengthAdjust="spacingAndGlyphs">ENERGY</textPath></text>
<text class="sf" font-size="14.5" font-weight="bold" fill="#111" stroke="#111" stroke-width="0.45" textLength="57.97" lengthAdjust="spacingAndGlyphs"><textPath href="#sealBot" startOffset="5.65" textLength="57.97" lengthAdjust="spacingAndGlyphs">UNITED</textPath></text>
<text class="sf" font-size="14.5" font-weight="bold" fill="#111" stroke="#111" stroke-width="0.45" textLength="51.35" lengthAdjust="spacingAndGlyphs"><textPath href="#sealBot" startOffset="65.68" textLength="51.35" lengthAdjust="spacingAndGlyphs">STATES</textPath></text>
<text class="sf" font-size="14.5" font-weight="bold" fill="#111" stroke="#111" stroke-width="0.45" textLength="16.83" lengthAdjust="spacingAndGlyphs"><textPath href="#sealBot" startOffset="119.42" textLength="16.83" lengthAdjust="spacingAndGlyphs">OF</textPath></text>
<text class="sf" font-size="14.5" font-weight="bold" fill="#111" stroke="#111" stroke-width="0.45" textLength="62.42" lengthAdjust="spacingAndGlyphs"><textPath href="#sealBot" startOffset="139.28" textLength="62.42" lengthAdjust="spacingAndGlyphs">AMERICA</textPath></text>
<circle cx="141.0" cy="254.6" r="1.7" fill="#111"/>
<circle cx="254.7" cy="254.6" r="1.7" fill="#111"/>
<path d="M175.9,243.6 H219.6 V273 C219.6,284.5 209,294.5 197.4,300.4 C186,294.5 175.9,284.5 175.9,273 Z" fill="none" stroke="#1a1a1a" stroke-width="3" stroke-linejoin="miter"/>
<polygon points="216.0,245.0 197.0,263.5 198.9,265.2 191.8,273.6 194.1,275.2 185.5,287.4 200.4,272.5 198.6,271.0 208.0,261.7 206.3,260.3 218.9,250.1 218.9,245.0" fill="#111"/>
<circle cx="184.7" cy="252.3" r="3.1" fill="#111"/>
<circle cx="184.7" cy="252.3" r="4.1" fill="none" stroke="#555" stroke-width="0.6" stroke-dasharray="0.8 0.9"/>
<g fill="none" stroke="#555" stroke-width="0.7"><ellipse cx="198.9" cy="253" rx="4.6" ry="1.8"/><ellipse cx="198.9" cy="253" rx="4.6" ry="1.8" transform="rotate(60 198.9 253)"/><ellipse cx="198.9" cy="253" rx="4.6" ry="1.8" transform="rotate(120 198.9 253)"/></g><circle cx="198.9" cy="253" r="1.5" fill="#444"/>
<path d="M185.2,262.8 V276.6" stroke="#222" stroke-width="1.3" fill="none"/><circle cx="185.2" cy="264.4" r="1.0" fill="#222"/><circle cx="185.2" cy="268.6" r="1.0" fill="#333"/><circle cx="185.2" cy="272.6" r="1.1" fill="#333"/><path d="M182.6,277.4 H188.2" stroke="#333" stroke-width="1.4"/>
<circle cx="210" cy="267.2" r="3.0" fill="#555"/><circle cx="214.6" cy="268.2" r="1.1" fill="#222"/><path d="M210.4,270 L209.6,277.6 M206.6,278 H212.6" stroke="#444" stroke-width="0.9" fill="none"/>
<path d="M199.6,280.4 C201.5,280 202.6,283 202.6,285.6 L200,285.6 Z" fill="#222"/><g fill="none" stroke="#666" stroke-width="0.7"><rect x="195" y="281.5" width="4.5" height="6"/><path d="M203,284 H206.5 M205.6,284 V289 M197,289.5 H204"/></g>
<path d="M188.2,220.6 C188,217.6 191,215.6 195.6,216 C194.4,217.4 194.6,218.6 195.2,220.2 C192.6,219.4 190.2,219.6 188.2,220.6 Z" fill="#111"/>
<path d="M195,216 C199,214 203.4,215.2 204.2,220.4 C204.8,226.4 206.4,231.4 209,235 L189.4,235.4 C194.2,230.6 196.2,225.4 195.2,220.4 Z" fill="#f6f6f6"/>
<path d="M194.6,215.6 C198.6,213.8 203.4,215.2 204.2,220.4 C204.8,226.4 206.4,231.4 209,235" fill="none" stroke="#555" stroke-width="0.9"/>
<path d="M195.2,220.4 C196.2,225.4 194.2,230.6 189.4,235.4" fill="none" stroke="#777" stroke-width="0.7"/>
<path d="M197.4,222 C198,227 196.6,231 193,234.6 M200.4,221 C201,226 201.6,230 204,233.6 M198.6,234.4 L201.6,232 L204.6,234.4" fill="none" stroke="#aaa" stroke-width="0.6"/>
<path d="M177.6,236.2 H218.6 V241.6 H177.6 Z" fill="#f0f0f0" stroke="#bbb" stroke-width="0.5"/>
<path d="M180.0,236.3 L182.2,236.3 L186.0,241.2 L183.6,241.2 Z" fill="#1c1c1c"/>
<path d="M186.3,236.3 L188.5,236.3 L192.3,241.2 L189.9,241.2 Z" fill="#1c1c1c"/>
<path d="M192.7,236.3 L194.9,236.3 L198.7,241.2 L196.3,241.2 Z" fill="#1c1c1c"/>
<path d="M199.1,236.3 L201.2,236.3 L205.1,241.2 L202.7,241.2 Z" fill="#1c1c1c"/>
<path d="M205.4,236.3 L207.6,236.3 L211.4,241.2 L209.0,241.2 Z" fill="#1c1c1c"/>
<path d="M211.8,236.3 L213.9,236.3 L217.8,241.2 L215.3,241.2 Z" fill="#1c1c1c"/>
</g>
</svg>
<div id="top"></div><div id="right"></div>
</body></html>
